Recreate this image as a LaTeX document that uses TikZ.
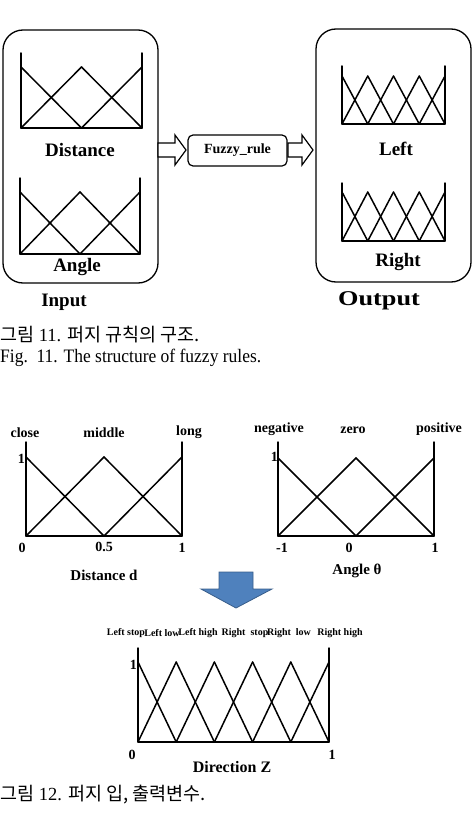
\documentclass[tikz,border=0pt]{standalone}
\usepackage{fontspec}
\setmainfont{Liberation Serif}
\newfontfamily\kr{Noto Sans CJK KR}
\newcommand{\fzchart}[6]{% x0, x1, ybase, ypeak, ytop, intervals
  \draw[chart] (#1,#5) -- (#1,#3) -- (#2,#3) -- (#2,#5);
  \pgfmathsetmacro\fzstep{(#2-#1)/#6}
  \foreach \k in {1,...,#6}{
    \draw[chart] ({#1+(\k-1)*\fzstep},#3) -- ({#1+\k*\fzstep},#4);
    \draw[chart] ({#1+(\k-1)*\fzstep},#4) -- ({#1+\k*\fzstep},#3);
  }
}
\tikzset{
  chart/.style={line width=1.5pt, line cap=round, line join=round},
  bigbox/.style={draw, line width=1.3pt, rounded corners=20pt, minimum width=155pt, minimum height=253pt, inner sep=0pt},
  rulebox/.style={draw, line width=1.2pt, rounded corners=5pt, minimum width=99pt, minimum height=31pt, inner sep=0pt, font=\fontsize{14}{16}\selectfont\bfseries},
  hollow/.style={draw, line width=1.2pt, fill=white},
  blk/.style={inner sep=0pt, font=\fontsize{19}{21}\selectfont\bfseries},
  bigl/.style={inner sep=0pt, font=\fontsize{19}{21}\selectfont\bfseries},
  mid/.style={inner sep=0pt, font=\fontsize{14}{16}\selectfont\bfseries},
  tiny/.style={inner sep=0pt, font=\fontsize{10}{12}\selectfont\bfseries},
  captext/.style={inner sep=0pt, anchor=west, font=\fontsize{18.5}{20}\selectfont},
}
\begin{document}
\begin{tikzpicture}[x=1pt,y=-1pt]
\useasboundingbox (0,0) rectangle (474,816);
% ---------- Fig. 11 ----------
\node[bigbox] (inbox) at (80.5,156.5) {};
\node[bigbox] (outbox) at (393.5,155.5) {};
\node[rulebox] (fz) at (237.5,150.5) {Fuzzy\_rule};
\draw[hollow] (158,143) -- (175,143) -- (175,135) -- (186,150) -- (175,165) -- (175,157) -- (158,157) -- cycle;
\draw[hollow] (288,143) -- (302,143) -- (302,135) -- (313,150) -- (302,165) -- (302,157) -- (288,157) -- cycle;

\fzchart{21}{142}{128}{67}{53}{2}
\fzchart{20}{140}{254}{192}{178}{2}
\fzchart{342}{445}{124}{76}{66}{4}
\fzchart{342}{445}{241}{192}{183}{4}

\node[blk] (ldist) at (80,150) {Distance};
\node[blk] (lang) at (77,267) {Angle};
\node[bigl] (lin) at (64,302) {Input};
\node[bigl] (lleft) at (396,149) {Left};
\node[bigl] (lright) at (398,262) {Right};
\node[inner sep=0pt, font=\fontsize{21}{23}\selectfont\bfseries] (lout) at (379,301) {\scalebox{1.25}[1]{Output}};

\node[captext] (c1k) at (0,335) {{\kr 그림} 11. {\kr 퍼지 규칙의 구조.}};
\node[captext] (c1e) at (0,358) {\fontsize{19}{21}\selectfont\scalebox{0.92}[1]{Fig.\ \ 11. The structure of fuzzy rules.}};

% ---------- Fig. 12 ----------
\fzchart{26}{182}{536}{457}{442}{2}
\fzchart{278}{434}{536}{458}{442}{2}
\fzchart{138}{329}{742}{662}{648}{5}

\node[mid] (tclose) at (25,433) {close};
\node[mid] (tmiddle) at (104,433) {middle};
\node[mid] (tlong) at (189,432) {long};
\node[mid, anchor=east] (tone1) at (25,459) {1};
\node[mid] (tz1) at (22,548) {0};
\node[mid] (th1) at (104,547) {0.5};
\node[mid] (to1) at (182,548) {1};
\node[mid, font=\fontsize{15}{17}\selectfont\bfseries] (tdd) at (104,575) {Distance d};

\node[mid] (tneg) at (279,429) {negative};
\node[mid] (tzero) at (353,430) {zero};
\node[mid] (tpos) at (439,429) {positive};
\node[mid, anchor=east] (tone2) at (278,457) {1};
\node[mid] (tm1) at (282,548) {-1};
\node[mid] (tz2) at (349,548) {0};
\node[mid] (to2) at (435,548) {1};
\node[mid, font=\fontsize{15}{17}\selectfont\bfseries] (tang) at (357,571) {Angle θ};

\draw[fill={rgb,255:red,79;green,129;blue,189}, draw={rgb,255:red,56;green,93;blue,138}, line width=0.8pt]
  (219,572) -- (253,572) -- (253,589) -- (272,589) -- (236,608) -- (201,589) -- (219,589) -- cycle;

\node[tiny] (d1) at (126,633) {Left stop};
\node[tiny] (d2) at (162,633) {Left low};
\node[tiny] (d3) at (198,633) {Left high};
\node[tiny] (d4) at (245,633) {Right\ \ stop};
\node[tiny] (d5) at (289,633) {Right\ \ low};
\node[tiny] (d6) at (340,633) {Right high};
\node[mid, anchor=east] (tone3) at (137,665) {1};
\node[mid] (tz3) at (132,755) {0};
\node[mid] (to3) at (332,755) {1};
\node[mid, font=\fontsize{16}{18}\selectfont\bfseries] (tdir) at (232,767) {Direction Z};

\node[captext] (c2k) at (0,795) {{\kr 그림} 12. {\kr 퍼지 입, 출력변수.}};
\end{tikzpicture}
\end{document}
